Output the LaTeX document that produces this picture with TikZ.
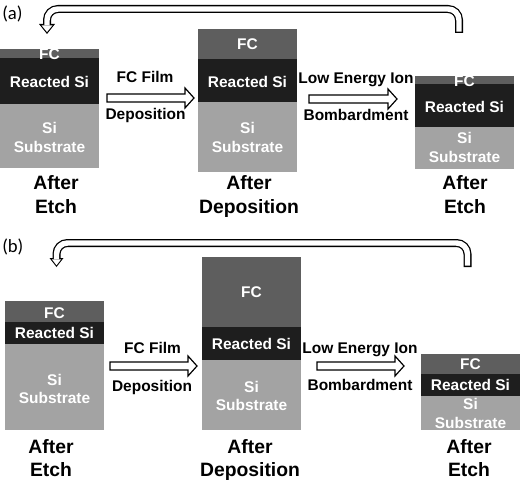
\documentclass[tikz,border=0pt]{standalone}
\usepackage{fontspec}
\setmainfont{Liberation Sans}
\newfontfamily\calibfont{Carlito}
\definecolor{fcgray}{HTML}{5E5E5E}
\definecolor{rsigray}{HTML}{1E1E1E}
\definecolor{subgray}{HTML}{A3A3A3}
\newcommand\mklayer[6]{\node[layer, fill=#6, minimum width=#4*0.75pt, minimum height=#5*0.75pt] (#1) at (#2,#3) {};}
\newcommand\blockarrow[3]{\draw[barrow] (#1,#3-4) -- (#2-9,#3-4) -- (#2-9,#3-10) -- (#2,#3) -- (#2-9,#3+10) -- (#2-9,#3+4) -- (#1,#3+4) -- cycle;}
\begin{document}
\begin{tikzpicture}[x=0.75pt,y=-0.75pt,
  layer/.style={draw=none, inner sep=0pt, outer sep=0pt, anchor=north west},
  btxt/.style={font=\bfseries\fontsize{11.6pt}{13pt}\selectfont, text=white, anchor=base, yshift=-4.15pt, inner sep=0pt},
  atxt/.style={font=\bfseries\fontsize{11.6pt}{13pt}\selectfont, text=black, anchor=base, yshift=-4.15pt, inner sep=0pt},
  ltxt/.style={font=\bfseries\fontsize{14.5pt}{16pt}\selectfont, text=black, anchor=base, yshift=-5.2pt, inner sep=0pt},
  ptxt/.style={font=\calibfont\fontsize{14pt}{16pt}\selectfont, anchor=west, inner sep=0pt},
  barrow/.style={draw=black, fill=white, line width=0.9pt, line join=miter},
  rblack/.style={draw=black, line width=6pt, rounded corners=8.25pt},
  rwhite/.style={draw=white, line width=4.1pt, rounded corners=8.25pt}]
\useasboundingbox (0,0) rectangle (520,481);

% ---------------- panel (a) ----------------
\node[ptxt] (pa) at (2,14) {(a)};
% box 1
\mklayer{a1fc}{0}{49}{99}{9}{fcgray}
\mklayer{a1r}{0}{58}{99}{46}{rsigray}
\mklayer{a1s}{0}{104}{99}{64}{subgray}
\node[btxt] (a1fct) at (49.5,54) {FC};
\node[btxt] (a1rt) at (49.5,81.5) {Reacted Si};
\node[btxt] (a1st) at (49.5,128) {Si};
\node[btxt] (a1st2) at (49.5,146.5) {Substrate};
\node[ltxt] (a1l1) at (56,183) {After};
\node[ltxt] (a1l2) at (56,207) {Etch};
% box 2
\mklayer{a2fc}{198}{29}{99}{30}{fcgray}
\mklayer{a2r}{198}{59}{99}{43}{rsigray}
\mklayer{a2s}{198}{102}{99}{70}{subgray}
\node[btxt] (a2fct) at (247.5,44) {FC};
\node[btxt] (a2rt) at (247.5,81.5) {Reacted Si};
\node[btxt] (a2st) at (247.5,128) {Si};
\node[btxt] (a2st2) at (247.5,146.5) {Substrate};
\node[ltxt] (a2l1) at (249,183) {After};
\node[ltxt] (a2l2) at (249,207) {Deposition};
% box 3
\mklayer{a3fc}{415}{76}{99}{8}{fcgray}
\mklayer{a3r}{415}{84}{99}{43}{rsigray}
\mklayer{a3s}{415}{127}{99}{42}{subgray}
\node[btxt] (a3fct) at (464.5,81) {FC};
\node[btxt] (a3rt) at (464.5,106.5) {Reacted Si};
\node[btxt] (a3st) at (464.5,138) {Si};
\node[btxt] (a3st2) at (464.5,157) {Substrate};
\node[ltxt] (a3l1) at (465,183) {After};
\node[ltxt] (a3l2) at (465,207) {Etch};
% forward arrows
\blockarrow{107}{194}{98}
\node[atxt] (a12t) at (145,77) {FC Film};
\node[atxt] (a12b) at (145.5,114) {Deposition};
\blockarrow{309}{397}{99}
\node[atxt] (a23t) at (356,78) {Low Energy Ion};
\node[atxt] (a23b) at (356,115) {Bombardment};
% return arrow
\coordinate (raS) at (459,33);
\coordinate (raE) at (47,24);
\draw[rblack] (raS) -- (459,9) -- (47,9) -- (raE);
\fill[black] (39,24) -- (55,24) -- (47,34) -- cycle;
\draw[rwhite] (459,31.7) -- (459,9) -- (47,9) -- (47,25.3);
\fill[white] (41.5,25.3) -- (52.5,25.3) -- (47,32.1) -- cycle;

% ---------------- panel (b) ----------------
\node[ptxt] (pb) at (2,247) {(b)};
% box 1
\mklayer{b1fc}{5}{301}{99}{21}{fcgray}
\mklayer{b1r}{5}{322}{99}{22}{rsigray}
\mklayer{b1s}{5}{344}{99}{86}{subgray}
\node[btxt] (b1fct) at (54.5,312.5) {FC};
\node[btxt] (b1rt) at (54.5,333) {Reacted Si};
\node[btxt] (b1st) at (54.5,380) {Si};
\node[btxt] (b1st2) at (54.5,398) {Substrate};
\node[ltxt] (b1l1) at (51,447) {After};
\node[ltxt] (b1l2) at (51,470) {Etch};
% box 2
\mklayer{b2fc}{202}{257}{99}{70}{fcgray}
\mklayer{b2r}{202}{327}{99}{33}{rsigray}
\mklayer{b2s}{202}{360}{99}{70}{subgray}
\node[btxt] (b2fct) at (251.5,292) {FC};
\node[btxt] (b2rt) at (251.5,344) {Reacted Si};
\node[btxt] (b2st) at (251.5,387) {Si};
\node[btxt] (b2st2) at (251.5,405) {Substrate};
\node[ltxt] (b2l1) at (250,447) {After};
\node[ltxt] (b2l2) at (250,470) {Deposition};
% box 3
\mklayer{b3fc}{421}{354}{99}{20}{fcgray}
\mklayer{b3r}{421}{374}{99}{22}{rsigray}
\mklayer{b3s}{421}{396}{99}{34}{subgray}
\node[btxt] (b3fct) at (470.5,364) {FC};
\node[btxt] (b3rt) at (470.5,385) {Reacted Si};
\node[btxt] (b3st) at (470.5,404) {Si};
\node[btxt] (b3st2) at (470.5,423) {Substrate};
\node[ltxt] (b3l1) at (469,447) {After};
\node[ltxt] (b3l2) at (469,470) {Etch};
% forward arrows
\blockarrow{110}{197}{366}
\node[atxt] (b12t) at (152.5,348) {FC Film};
\node[atxt] (b12b) at (152,386) {Deposition};
\blockarrow{317}{404}{366}
\node[atxt] (b23t) at (360,348) {Low Energy Ion};
\node[atxt] (b23b) at (360,385) {Bombardment};
% return arrow
\coordinate (rbS) at (467.5,267);
\coordinate (rbE) at (56.5,258);
\draw[rblack] (rbS) -- (467.5,243) -- (56.5,243) -- (rbE);
\fill[black] (49.5,258) -- (63.5,258) -- (56.5,267) -- cycle;
\draw[rwhite] (467.5,265.7) -- (467.5,243) -- (56.5,243) -- (56.5,259.3);
\fill[white] (51.8,259.3) -- (61.2,259.3) -- (56.5,265.2) -- cycle;
\end{tikzpicture}
\end{document}
